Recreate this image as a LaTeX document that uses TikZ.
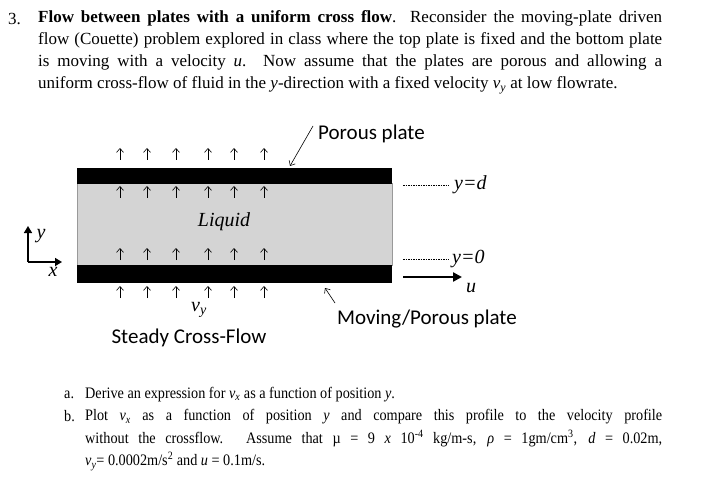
\documentclass[tikz,border=0pt]{standalone}
\usepackage{fontspec}
\setmainfont{Liberation Serif}
\newfontfamily\calib{Carlito}
\newfontfamily\qfont[FakeStretch=0.89]{Liberation Serif}
\usetikzlibrary{arrows.meta}
\newcommand\vv[1]{\textit{v}\textsubscript{\textit{#1}}}
\begin{document}
\begin{tikzpicture}[x=1pt,y=-1pt,
  txt/.style={inner sep=0pt,font=\fontsize{17}{22}\selectfont},
  qtxt/.style={inner sep=0pt,font=\qfont\fontsize{16}{22.5}\selectfont},
  lab/.style={inner sep=0pt,font=\calib\fontsize{21}{24}\selectfont},
  it/.style={inner sep=0pt,font=\fontsize{20}{22}\selectfont\itshape},
  small/.style={-{Straight Barb[length=4pt,width=7pt]},line width=0.6pt},
  plate/.style={fill=black,draw=none},
  dashln/.style={dash pattern=on 1.5pt off 1pt,line width=0.5pt}]
\useasboundingbox (0,0) rectangle (703,494);
% header
\node[txt,anchor=base west] (num) at (8,25) {3.};
\node[txt,anchor=north west,text width=624pt,align=justify] (par) at (38,10.5)
 {\textbf{Flow between plates with a uniform cross flow}. Reconsider the moving-plate driven\linebreak
 flow (Couette) problem explored in class where the top plate is fixed and the bottom plate\linebreak
 is moving with a velocity \textit{u}. Now assume that the plates are porous and allowing a\linebreak
 uniform cross-flow of fluid in the \textit{y}-direction with a fixed velocity \vv{y} at low flowrate.};
% plates
\fill[black!17] (77,183) rectangle (392,265);
\draw[black!40] (77,183) rectangle (392,265);
\node[plate,minimum width=315pt,minimum height=16pt,anchor=north west] (top) at (77,168) {};
\node[plate,minimum width=315pt,minimum height=18pt,anchor=north west] (bot) at (77,265) {};
\foreach \x in {120,147,176,208,234,264}{
  \draw[small] (\x,160) -- (\x,148);
  \draw[small] (\x,198) -- (\x,186);
  \draw[small] (\x,260) -- (\x,248);
  \draw[small] (\x,298) -- (\x,286);
}
\node[it] (liq) at (224,222) {Liquid};
\node[lab,anchor=west] (pp) at (318,134) {Porous plate};
\coordinate (ppa) at (290,166);
\draw[small] (313,126) -- (ppa);
\coordinate (d1) at (403,185); \coordinate (d2) at (449,185);
\draw[dashln] (d1) -- (d2);
\node[it,anchor=west] (yd) at (454,185) {y=d};
\coordinate (z1) at (403,259); \coordinate (z2) at (449,259);
\draw[dashln] (z1) -- (z2);
\node[it,anchor=west] (y0) at (452,259) {y=0};
\coordinate (u1) at (403,277); \coordinate (u2) at (462,277);
\draw[-{Triangle[length=9pt,width=9pt]},line width=2.2pt] (u1) -- (u2);
\node[it,anchor=west] (u) at (466,288) {u};
\node[lab,anchor=west] (mp) at (337,319) {Moving/Porous plate};
\coordinate (mpa) at (325,288);
\draw[small] (335,303) -- (mpa);
\node[it] (vy) at (199,310) {\vv{y}};
\node[lab] (scf) at (189,338) {Steady Cross-Flow};
% axes
\coordinate (o) at (28,262);
\coordinate (ay) at (28,226);
\coordinate (ax) at (62,262);
\draw[-{Triangle[length=7pt,width=8pt]},line width=1.5pt] (o) -- (ay);
\draw[-{Triangle[length=7pt,width=8pt]},line width=1.5pt] (o) -- (ax);
\node[it] (ly) at (41,236) {y};
\node[it] (lx) at (53,272) {x};
% questions
\node[qtxt,anchor=base west] (qa) at (64,398) {a.};
\node[qtxt,anchor=base west] (qat) at (85,398) {Derive an expression for \vv{x} as a function of position \textit{y}.};
\node[qtxt,anchor=base west] (qb) at (64,421) {b.};
\node[qtxt,anchor=north west,text width=577pt,align=justify] (qbt) at (85,409.5)
 {Plot \vv{x} as a function of position \textit{y} and compare this profile to the velocity profile\linebreak
 without the crossflow. Assume that µ = 9 \textit{x} 10\textsuperscript{-4} kg/m-s, \textit{ρ} = 1gm/cm\textsuperscript{3}, \textit{d} = 0.02m,\linebreak
 \vv{y}= 0.0002m/s\textsuperscript{2} and \textit{u} = 0.1m/s.};
\end{tikzpicture}
\end{document}
